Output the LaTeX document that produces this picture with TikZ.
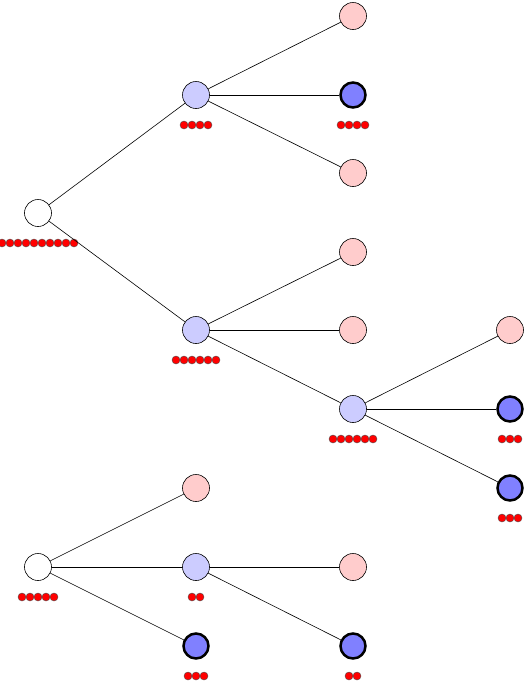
\documentclass[tikz,border=0pt]{standalone}
\begin{document}
\begin{tikzpicture}[x=1pt,y=-1pt,
  n/.style={circle,draw,minimum size=27pt,inner sep=0pt,line width=0.6pt},
  w/.style={n,fill=white},
  lb/.style={n,fill=blue!20},
  pk/.style={n,fill=red!20},
  bl/.style={n,fill=blue!50,line width=2.5pt,minimum size=25pt},
  dot/.style={circle,draw=black!70,fill=red,minimum size=8pt,inner sep=0pt,line width=0.4pt},
  e/.style={line width=0.6pt}]
\useasboundingbox (0,0) rectangle (530,686);
\newcommand{\reddots}[3]{\foreach \i in {1,...,#3}{\node[dot] at ({#1+(\i-(#3+1)/2)*8},{#2+30}) {};}}
\reddots{38}{213}{10}
\reddots{196}{95}{4}
\reddots{353}{95}{4}
\reddots{196}{330}{6}
\reddots{353}{409}{6}
\reddots{510}{409}{3}
\reddots{510}{488}{3}
\reddots{38}{567}{5}
\reddots{196}{567}{2}
\reddots{196}{646}{3}
\reddots{353}{646}{2}
\node[w] (r) at (38,213) {};
\node[lb] (a) at (196,95) {};
\node[lb] (b) at (196,330) {};
\node[pk] (a1) at (353,16) {};
\node[bl] (a2) at (353,95) {};
\node[pk] (a3) at (353,173) {};
\node[pk] (b1) at (353,252) {};
\node[pk] (b2) at (353,330) {};
\node[lb] (b3) at (353,409) {};
\node[pk] (c1) at (510,330) {};
\node[bl] (c2) at (510,409) {};
\node[bl] (c3) at (510,488) {};
\node[w] (s) at (38,567) {};
\node[pk] (s1) at (196,488) {};
\node[lb] (s2) at (196,567) {};
\node[bl] (s3) at (196,646) {};
\node[pk] (t1) at (353,567) {};
\node[bl] (t2) at (353,646) {};
\foreach \u/\v in {r/a,r/b,a/a1,a/a2,a/a3,b/b1,b/b2,b/b3,b3/c1,b3/c2,b3/c3,s/s1,s/s2,s/s3,s2/t1,s2/t2}
  \draw[e] (\u) -- (\v);
\end{tikzpicture}
\end{document}
